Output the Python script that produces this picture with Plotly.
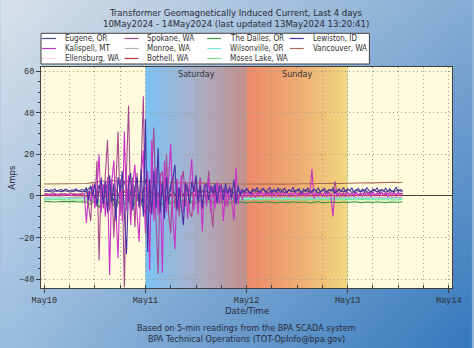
import base64
import struct
import zlib

import pandas as pd
import plotly.graph_objects as go

# ---------------------------------------------------------------- data
START = pd.Timestamp("2024-05-10 00:00")

SITES = ["Eugene, OR", "Spokane, WA", "The Dalles, OR", "Lewiston, ID",
         "Kalispell, MT", "Monroe, WA", "Wilsonville, OR", "Vancouver, WA",
         "Ellensburg, WA", "Bothell, WA", "Moses Lake, WA"]

COLORS = {"Eugene, OR": "#4a4a7a", "Spokane, WA": "#a8488e",
          "The Dalles, OR": "#3a9646", "Lewiston, ID": "#4632a6",
          "Kalispell, MT": "#c832c8", "Monroe, WA": "#b4b4b4",
          "Wilsonville, OR": "#78e6e6", "Vancouver, WA": "#a86c54",
          "Ellensburg, WA": "#ffd2e4", "Bothell, WA": "#b83a3a",
          "Moses Lake, WA": "#78e48a"}

# hours after 10May 00:00 for the two sampling grids
HOURS_HALF = [i * 0.5 for i in range(171)]   # 30-min readings
HOURS_FULL = list(range(86))                 # hourly readings

# amps, 30-min readings
KALISPELL = [
    0.5, 0.8, 0.3, 0.6, 0.4, 0.9, 0.2, 0.7, 0.5, 0.3,
    0.8, 0.4, 0.6, 0.2, 0.9, 0.5, 0.3, 0.7, 1.2, 0.4,
    -13, 2.5, -3, 5, -6, 4, 20, -8, 6, -10,
    9, -38, 7, 17, -9, -30, 8, -12, 31, -7,
    10, -14, 6, 15, -8, -22, 9, 22, -16, 12,
    -35.7, 27, -12, 14, -9, 11, -37, 17, -8, 9,
    25, -10, -25.6, 8, -6, 10, -8, 7, -11, 6,
    18, -7, 5, -9, 8, -17, 6, -5, 9, -8,
    5, -6, 7, -4, 6, -12, 4, -5, 5, -3,
    -11.7, 13.5, -4, 3, -2, 2.0, -0.5, 2.2, -0.6, 1.6,
    -0.8, 1.8, 0.0, 2.4, -0.4, 1.9, 0.0, 2.1, -0.6, 1.5,
    -0.2, 1.9, -0.3, 1.6, 0.1, 2.2, -0.4, 1.7, 0.0, 1.9,
    -0.2, 1.6, 0.1, 1.5, -0.3, 1.8, 0.0, 13, -1.2, 1.7,
    -0.2, 1.5, 0.0, 2.0, -0.5, 1.6, 0.0, -9.8, 3.5, -0.2,
    1.7, 0.1, 1.4, -0.3, 1.9, 0.0, 1.6, -0.4, 2.0, 0.1,
    1.4, -0.2, 2.1, 0.0, 1.8, -0.4, 2.2, 0.0, 1.5, -0.2,
    2.0, 0.1, 1.8, -0.5, 1.9, 0.0, 1.6, -0.1, 2.0, 0.2,
    1.4,
]

LEWISTON = [
    2.8, 3.2, 2.4, 3.0, 2.6, 3.4, 2.2, 2.9, 3.1, 2.5,
    3.3, 2.7, 2.4, 3.0, 2.6, 3.5, 2.3, 2.8, 3.1, 2.6,
    4, -2, 5, 0, 6, -5, 3, 8, -4, 7,
    -8, 10, -3, 6, -12, 9, 2, 12, -6, -28,
    5, 11, -7, 4, 9, -5, 13, -10, 37, -27,
    8, -9, 12, -6, 23, -8, 6, -11, 9, -4,
    5, 8, 15, -7, 4, -5, -14, 6, 3, -4,
    7, 2, 10, -3, 5, -6, 4, 6, -2, 5,
    1, 6, -3, 4, 5, -2, 6, 1, 4, -1,
    8, -4, 5, 0, 3.4, 1.6, 3.8, 2.1, 1.2, 3.5,
    2.4, 4.1, 1.5, 2.9, 3.6, 1.8, 2.7, 4.0, 1.3, 3.2,
    2.2, 3.9, 1.7, 2.6, 3.7, 1.4, 3.1, 2.3, 4.2, 1.9,
    2.8, 3.5, 1.1, 3.3, 2.0, 3.8, 2.5, 1.6, 3.4, 2.2,
    4.0, 1.8, 2.9, 3.6, 1.5, 3.0, 2.4, 3.9, 1.3, 2.7,
    3.5, 2.0, 4.1, 1.7, 3.2, 2.6, 3.8, 1.4, 2.9, 3.6,
    2.1, 3.3, 1.9, 4.0, 2.5, 1.6, 3.4, 2.8, 3.9, 1.5,
    3.1, 2.3, 3.7, 2.0, 3.5, 1.8, 2.7, 4.2, 2.2, 3.0,
    2.6,
]

SPOKANE = [
    1.0, 1.2, 0.8, 1.1, 0.9, 1.3, 0.7, 1.0, 1.2, 0.9,
    1.1, 0.8, 1.0, 1.3, 0.9, 1.1, 0.8, 1.2, 1.0, 0.9,
    3, -5, -12, 6, -4, 17, -31, 9, -6, 11,
    27, -7, 8, -20, 10, 31, -9, 7, -44, 12,
    43.5, -10, 9, -15, 11, -6, 14, 48, -18, 10,
    -8, 13, 33, -11, -37.6, 9, 12, -7, 20, -9,
    -18, 10, -6, 8, -10, 7, 12, -5, 6, -8,
    -10, 5, 7, -4, 9, -6, 4, -3, 12, -5,
    -15, 5, -4, 6, -3, 4, -5, 3, -2, 4,
    -3, 2, -2, 1.5, 1.4, 0.6, 1.8, 0.9, 1.2, 0.4,
    1.6, 1.0, 0.7, 1.5, 1.1, 0.5, 1.7, 0.8, 1.3, 0.6,
    1.9, 1.0, 0.4, 1.4, 0.9, 1.6, 0.7, 1.2, 0.5, 1.8,
    1.1, 0.6, 1.5, 0.8, 1.3, 0.7, 1.7, 1.0, 0.5, 1.4,
    0.9, 1.6, 0.6, 1.2, 1.0, 1.8, 0.7, 1.3, 7.0, 0.4,
    1.5, 0.9, 1.1, 0.6, 1.7, 0.8, 1.2, 0.5, 1.6, 1.0,
    0.7, 1.4, 0.9, 1.8, 0.6, 1.3, 1.1, 0.5, 1.5, 0.8,
    1.7, 1.0, 0.6, 1.2, 1.4, 0.9, 1.6, 0.7, 1.1, 1.3,
    0.8,
]

# amps, hourly readings
VANCOUVER = [
    5.8, 5.8, 5.7, 5.8, 5.9, 5.8, 5.7, 5.8, 5.8, 5.9,
    6.0, 6.3, 6.6, 7.0, 7.2, 6.8, 7.4, 7.1, 6.9, 7.3,
    7.0, 6.8, 7.2, 6.9, 6.6, 6.8, 7.1, 6.7, 6.9, 6.6,
    6.4, 6.5, 6.3, 6.5, 6.2, 6.4, 6.1, 6.3, 6.2, 6.0,
    6.1, 6.0, 5.9, 6.0, 5.8, 5.9, 5.8, 5.9, 5.7, 5.8,
    5.8, 5.7, 5.9, 5.8, 5.7, 5.8, 5.6, 5.7, 5.8, 5.7,
    5.8, 5.9, 5.8, 6.0, 5.9, 6.0, 6.1, 6.0, 6.2, 6.1,
    6.0, 6.1, 6.2, 6.1, 6.3, 6.2, 6.3, 6.4, 6.3, 6.4,
    6.5, 6.4, 6.5, 6.6, 6.5, 6.6,
]

EUGENE = [
    2.0, 2.4, 1.8, 2.6, 2.1, 2.5, 1.9, 2.3, 2.7, 2.0,
    2.4, 4.5, -1.0, 5.2, -2.5, 6.0, 0.5, -4.8, 3.5, 7.0,
    -2.2, 5.5, 0.8, -3.2, 8.0, -1.5, 5.8, 0.0, 6.5, -1.0,
    4.6, 0.2, 4.0, 0.6, 3.6, 1.0, 3.4, 1.2, 3.0, 1.6,
    2.9, 1.5, 2.8, 1.8, 3.1, 1.4, 2.6, 1.9, 3.0, 1.6,
    2.7, 1.9, 3.2, 1.5, 2.8, 2.0, 3.3, 1.6, 2.6, 2.1,
    3.0, 1.7, 2.9, 1.8, 3.2, 1.5, 2.8, 2.2, 3.1, 1.6,
    2.7, 2.0, 3.3, 1.7, 2.9, 1.9, 3.0, 1.6, 2.8, 2.1,
    3.2, 1.8, 2.7, 2.0, 3.1, 1.9,
]

THE_DALLES = [
    -2.6, -2.8, -2.7, -2.9, -2.6, -2.8, -2.7, -2.6, -2.9, -2.8,
    -3.0, -4.0, -2.0, -5.5, -1.5, -4.8, -2.2, -6.5, -1.0, -4.0,
    -2.5, -5.2, -1.8, -3.6, -8.5, -2.0, -5.0, -2.6, -4.2, -1.9,
    -3.8, -2.4, -3.5, -2.1, -3.3, -2.7, -3.6, -2.4, -3.1, -2.8,
    -3.2, -2.6, -3.0, -2.9, -3.4, -2.8, -3.1, -2.9, -3.3, -3.0,
    -2.9, -3.2, -3.0, -2.8, -3.1, -3.3, -2.9, -3.0, -3.2, -2.8,
    -3.1, -3.0, -2.9, -3.3, -3.0, -2.8, -3.2, -3.1, -2.9, -3.0,
    -3.2, -2.9, -3.1, -3.0, -2.8, -3.2, -3.0, -2.9, -3.1, -2.8,
    -3.0, -3.2, -2.9, -3.1, -3.0, -2.8,
]

WILSONVILLE = [
    -1.2, -1.1, -1.3, -1.2, -1.0, -1.2, -1.3, -1.1, -1.2, -1.0,
    -1.4, -2.0, -0.6, -2.8, 0.2, -2.4, -0.8, -3.0, 0.0, -2.2,
    -1.0, -2.6, -0.4, -1.8, -3.4, -0.6, -2.2, -1.0, -2.0, -0.8,
    -1.6, -1.0, -1.5, -0.9, -1.4, -1.1, -1.5, -1.0, -1.3, -1.2,
    -1.3, -1.1, -1.2, -1.3, -1.1, -1.2, -1.4, -1.1, -1.2, -1.3,
    -1.2, -1.1, -1.3, -1.2, -1.0, -1.2, -1.3, -1.1, -1.2, -1.3,
    -1.1, -1.2, -1.3, -1.1, -1.2, -1.0, -1.3, -1.2, -1.1, -1.2,
    -1.3, -1.2, -1.1, -1.3, -1.2, -1.1, -1.2, -1.3, -1.1, -1.2,
    -1.2, -1.3, -1.1, -1.2, -1.3, -1.1,
]

MOSES_LAKE = [
    -1.8, -1.7, -1.9, -1.8, -1.6, -1.8, -1.9, -1.7, -1.8, -1.9,
    -2.0, -2.8, -1.2, -3.4, -0.8, -3.0, -1.5, -3.6, -0.9, -2.8,
    -1.6, -3.2, -1.1, -2.4, -4.0, -1.3, -2.9, -1.6, -2.6, -1.4,
    -2.2, -1.6, -2.1, -1.5, -2.0, -1.7, -2.1, -1.6, -1.9, -1.8,
    -1.9, -1.7, -1.8, -1.9, -1.7, -1.8, -2.0, -1.7, -1.8, -1.9,
    -1.8, -1.7, -1.9, -1.8, -1.6, -1.8, -1.9, -1.7, -1.8, -1.9,
    -1.7, -1.8, -1.9, -1.7, -1.8, -1.6, -1.9, -1.8, -1.7, -1.8,
    -1.9, -1.8, -1.7, -1.9, -1.8, -1.7, -1.8, -1.9, -1.7, -1.8,
    -1.8, -1.9, -1.7, -1.8, -1.9, -1.7,
]

MONROE = [
    -0.6, -0.5, -0.7, -0.6, -0.4, -0.6, -0.7, -0.5, -0.6, -0.7,
    -0.8, -1.6, 0.2, -2.2, 0.8, -1.8, -0.2, -2.6, 0.6, -1.4,
    -0.4, -2.0, 0.4, -1.2, -3.0, 0.2, -1.8, -0.3, -1.5, 0.0,
    -1.0, -0.3, -0.9, -0.2, -0.8, -0.5, -0.9, -0.4, -0.7, -0.6,
    -0.7, -0.5, -0.6, -0.7, -0.5, -0.6, -0.8, -0.5, -0.6, -0.7,
    -0.6, -0.5, -0.7, -0.6, -0.4, -0.6, -0.7, -0.5, -0.6, -0.7,
    -0.5, -0.6, -0.7, -0.5, -0.6, -0.4, -0.7, -0.6, -0.5, -0.6,
    -0.7, -0.6, -0.5, -0.7, -0.6, -0.5, -0.6, -0.7, -0.5, -0.6,
    -0.6, -0.7, -0.5, -0.6, -0.7, -0.5,
]

BOTHELL = [
    0.2, 0.3, 0.1, 0.2, 0.4, 0.2, 0.1, 0.3, 0.2, 0.1,
    0.0, 1.5, -1.2, 2.4, -2.0, 1.8, -0.8, 3.0, -1.6, 2.2,
    -0.5, 2.6, -1.4, 1.6, 4.0, -2.2, 2.0, -0.6, 1.8, -1.0,
    1.0, -0.2, 0.9, -0.1, 0.7, 0.2, 0.8, 0.0, 0.5, 0.3,
    0.4, 0.2, 0.3, 0.1, 0.3, 0.2, 0.4, 0.1, 0.2, 0.3,
    0.2, 0.1, 0.3, 0.2, 0.4, 0.2, 0.1, 0.3, 0.2, 0.1,
    0.3, 0.2, 0.1, 0.3, 0.2, 0.4, 0.1, 0.2, 0.3, 0.2,
    0.1, 0.2, 0.3, 0.1, 0.2, 0.3, 0.2, 0.1, 0.3, 0.2,
    0.2, 0.1, 0.3, 0.2, 0.1, 0.3,
]

ELLENSBURG = [
    0.8, 0.9, 0.7, 0.8, 1.0, 0.8, 0.7, 0.9, 0.8, 0.7,
    0.6, 2.4, -0.8, 3.2, -1.4, 2.6, -0.2, 4.0, -1.0, 3.0,
    0.2, 3.4, -0.6, 2.2, 5.0, -1.6, 2.8, 0.0, 2.4, -0.4,
    1.6, 0.4, 1.5, 0.5, 1.3, 0.8, 1.4, 0.6, 1.1, 0.9,
    1.0, 0.8, 0.9, 0.7, 0.9, 0.8, 1.0, 0.7, 0.8, 0.9,
    0.8, 0.7, 0.9, 0.8, 1.0, 0.8, 0.7, 0.9, 0.8, 0.7,
    0.9, 0.8, 0.7, 0.9, 0.8, 1.0, 0.7, 0.8, 0.9, 0.8,
    0.7, 0.8, 0.9, 0.7, 0.8, 0.9, 0.8, 0.7, 0.9, 0.8,
    0.8, 0.7, 0.9, 0.8, 0.7, 0.9,
]

# drawing order: quiet stations first, active ones on top
SERIES = [
    ("Ellensburg, WA", HOURS_FULL, ELLENSBURG),
    ("Monroe, WA", HOURS_FULL, MONROE),
    ("Wilsonville, OR", HOURS_FULL, WILSONVILLE),
    ("Moses Lake, WA", HOURS_FULL, MOSES_LAKE),
    ("Bothell, WA", HOURS_FULL, BOTHELL),
    ("The Dalles, OR", HOURS_FULL, THE_DALLES),
    ("Vancouver, WA", HOURS_FULL, VANCOUVER),
    ("Spokane, WA", HOURS_HALF, SPOKANE),
    ("Eugene, OR", HOURS_FULL, EUGENE),
    ("Kalispell, MT", HOURS_HALF, KALISPELL),
    ("Lewiston, ID", HOURS_HALF, LEWISTON),
]
for _name, _h, _v in SERIES:
    assert len(_h) == len(_v), (_name, len(_h), len(_v))

X_RANGE = ["2024-05-09 23:13", "2024-05-14 00:45"]
Y_RANGE = [-44.3, 62.1]

# day bands behind the traces: (start, end, colour stops)
WEEKDAY = [(0.0, (255, 251, 220)), (1.0, (255, 251, 220))]
SATURDAY = [(0.0, (124, 194, 244)), (0.45, (166, 178, 204)), (1.0, (194, 144, 142))]
SUNDAY = [(0.0, (236, 138, 106)), (0.5, (238, 172, 114)), (1.0, (242, 216, 128))]
BANDS = [(X_RANGE[0], "2024-05-11", WEEKDAY),
         ("2024-05-11", "2024-05-12", SATURDAY),
         ("2024-05-12", "2024-05-13", SUNDAY),
         ("2024-05-13", X_RANGE[1], WEEKDAY)]
DAY_NAMES = [("2024-05-11 12:00", "Saturday"), ("2024-05-12 12:00", "Sunday")]

TITLE_1 = "Transformer Geomagnetically Induced Current, Last 4 days"
TITLE_2 = "10May2024 - 14May2024 (last updated 13May2024 13:20:41)"
FOOT_1 = "Based on 5-min readings from the BPA SCADA system"
FOOT_2 = "BPA Technical Operations (TOT-OpInfo@bpa.gov)"

# ---------------------------------------------------------------- layout
W, H = 474, 348
ML, MR, MT, MB = 41, 20, 67, 60
PW, PH = W - ML - MR, H - MT - MB
FONT = "DejaVu Sans Condensed, Liberation Sans, sans-serif"
MONO = "Liberation Mono, DejaVu Sans Mono, monospace"
TEXT = "#2a2a38"


def px_x(px):
    return (px - ML) / PW


def px_y(py):
    return (H - MB - py) / PH


def png_uri(rows):
    h, w = len(rows), len(rows[0])
    raw = b"".join(b"\x00" + bytes(c for p in row for c in p) for row in rows)

    def chunk(tag, data):
        return (struct.pack(">I", len(data)) + tag + data
                + struct.pack(">I", zlib.crc32(tag + data) & 0xffffffff))

    png = (b"\x89PNG\r\n\x1a\n"
           + chunk(b"IHDR", struct.pack(">IIBBBBB", w, h, 8, 2, 0, 0, 0))
           + chunk(b"IDAT", zlib.compress(raw))
           + chunk(b"IEND", b""))
    return "data:image/png;base64," + base64.b64encode(png).decode()


def ramp(stops, n=64):
    row = []
    for i in range(n):
        t = i / (n - 1)
        for (a, ca), (b, cb) in zip(stops, stops[1:]):
            if a <= t <= b:
                f = (t - a) / (b - a) if b > a else 0
                row.append(tuple(int(round(ca[k] + (cb[k] - ca[k]) * f)) for k in range(3)))
                break
    return [row]


def page_gradient(w=32, h=24):
    tl, tr = (214, 224, 234), (132, 172, 212)
    bl, br = (156, 190, 222), (56, 122, 190)
    rows = []
    for j in range(h):
        v = j / (h - 1)
        row = []
        for i in range(w):
            u = i / (w - 1)
            row.append(tuple(int(round(
                tl[k] * (1 - u) * (1 - v) + tr[k] * u * (1 - v)
                + bl[k] * (1 - u) * v + br[k] * u * v)) for k in range(3)))
        rows.append(row)
    return rows


fig = go.Figure()

for name, hours, vals in SERIES:
    times = START + pd.to_timedelta(hours, unit="h")
    fig.add_trace(go.Scatter(x=times, y=vals, mode="lines", name=name,
                             line=dict(color=COLORS[name], width=1.1),
                             showlegend=False))

images = [dict(source=png_uri(page_gradient()), xref="paper", yref="paper",
               x=px_x(0), y=px_y(0), sizex=W / PW, sizey=H / PH,
               xanchor="left", yanchor="top", sizing="stretch", layer="below")]
for x0, x1, stops in BANDS:
    span = (pd.Timestamp(x1) - pd.Timestamp(x0)).total_seconds() * 1000
    images.append(dict(source=png_uri(ramp(stops)), xref="x", yref="paper",
                       x=x0, y=1, sizex=span, sizey=1, xanchor="left",
                       yanchor="top", sizing="stretch", layer="below"))

annotations = [
    dict(text=TITLE_1, x=px_x(237), y=px_y(12.7), size=9.5),
    dict(text=TITLE_2, x=px_x(237), y=px_y(23.5), size=9.5),
    dict(text="Date/Time", x=0.5, y=px_y(310), size=9.5),
    dict(text=FOOT_1, x=0.5, y=px_y(327.5), size=9),
    dict(text=FOOT_2, x=0.5, y=px_y(338.5), size=9),
    dict(text="Amps", x=px_x(11), y=0.5, textangle=-90, size=9.5),
]
for a in annotations:
    a.update(xref="paper", yref="paper", showarrow=False, xanchor="center",
             yanchor="middle", font=dict(family=FONT, size=a.pop("size"), color=TEXT))
for when, label in DAY_NAMES:
    annotations.append(dict(text=label, x=when, xref="x", y=px_y(74),
                            yref="paper", showarrow=False, yanchor="middle",
                            font=dict(family=FONT, size=9, color="#333333")))

# legend box
shapes = [dict(type="rect", xref="paper", yref="paper",
               x0=px_x(41), x1=px_x(371), y0=px_y(64), y1=px_y(33.3),
               fillcolor="white", line=dict(color="#404040", width=1),
               layer="above")]
for i, name in enumerate(SITES):
    col, row = i % 4, i // 4
    lx, ly = 42 + 83 * col, 38.5 + 10 * row
    shapes.append(dict(type="line", xref="paper", yref="paper",
                       x0=px_x(lx), x1=px_x(lx + 14), y0=px_y(ly), y1=px_y(ly),
                       line=dict(color=COLORS[name], width=1.2), layer="above"))
    annotations.append(dict(text=name, xref="paper", yref="paper",
                            x=px_x(lx + 21), y=px_y(ly), xanchor="left",
                            yanchor="middle", showarrow=False,
                            font=dict(family=FONT, size=8, color="#303030")))

GRID = dict(gridcolor="#a09c90", griddash="1px,3px", gridwidth=1)

fig.update_layout(
    width=W, height=H, margin=dict(l=ML, r=MR, t=MT, b=MB),
    paper_bgcolor="#8fb2d6", plot_bgcolor="rgba(0,0,0,0)",
    images=images, shapes=shapes, annotations=annotations,
    showlegend=False,
    xaxis=dict(type="date", range=X_RANGE, dtick=86400000,
               tick0="2024-05-10", tickformat="%b%d",
               tickfont=dict(family=MONO, size=8.5, color="#303030"),
               ticks="outside", ticklen=4, tickcolor="#404040",
               showline=True, linecolor="#404040", linewidth=1, mirror=True,
               showgrid=True, **GRID, zeroline=False,
               minor=dict(dtick=6 * 3600000, showgrid=True, ticks="inside",
                          ticklen=3, tickcolor="#404040", **GRID)),
    yaxis=dict(range=Y_RANGE, dtick=20, tick0=0,
               tickfont=dict(family=MONO, size=8.5, color="#303030"),
               ticks="outside", ticklen=4, tickcolor="#404040",
               showline=True, linecolor="#404040", linewidth=1, mirror=True,
               showgrid=True, **GRID,
               zeroline=True, zerolinecolor="#404040", zerolinewidth=1,
               minor=dict(dtick=5, ticks="outside", ticklen=2,
                          tickcolor="#404040", showgrid=False)),
)

fig.write_html("out.html")
